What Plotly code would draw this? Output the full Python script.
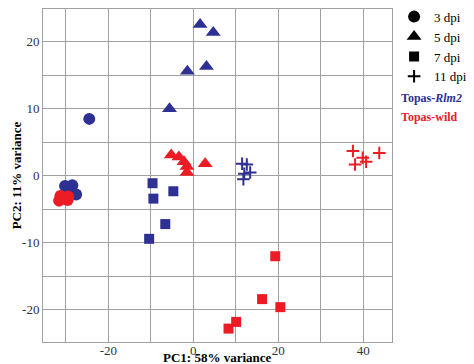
import plotly.graph_objects as go

# ---- data ----
rlm2_3dpi_x = [-24.5, -30.2, -28.5, -29.2, -27.6]
rlm2_3dpi_y = [8.5, -1.5, -1.4, -2.4, -2.8]
wild_3dpi_x = [-31.3, -31.6, -29.6, -29.5]
wild_3dpi_y = [-3.0, -3.7, -3.6, -3.1]

rlm2_5dpi_x = [1.6, 4.7, -1.4, 3.1, -5.6]
rlm2_5dpi_y = [22.6, 21.4, 15.6, 16.3, 10.0]
wild_5dpi_x = [-5.2, -3.4, -2.2, -1.5, -1.5, 2.8]
wild_5dpi_y = [3.1, 2.8, 2.1, 1.4, 0.5, 1.8]

rlm2_7dpi_x = [-9.6, -9.4, -4.7, -6.6, -10.4]
rlm2_7dpi_y = [-1.1, -3.4, -2.3, -7.2, -9.4]
wild_7dpi_x = [19.3, 16.2, 20.5, 8.3, 10.1]
wild_7dpi_y = [-12.0, -18.4, -19.6, -22.8, -21.8]

rlm2_11dpi_x = [11.5, 12.6, 12.0, 13.4, 11.8]
rlm2_11dpi_y = [1.8, 1.7, 0.3, 0.5, -0.5]
wild_11dpi_x = [37.6, 43.8, 39.9, 40.7, 38.1]
wild_11dpi_y = [3.7, 3.4, 2.7, 2.1, 1.7]

legend_labels = ["3 dpi", "5 dpi", "7 dpi", "11 dpi"]
group_labels = ["Topas-<i>Rlm2</i>", "Topas-wild"]
x_tickvals = [-30, -20, -10, 0, 10, 20, 30, 40]
x_ticktext = ["", "-20", "", "0", "", "20", "", "40"]
y_tickvals = [-20, -15, -10, -5, 0, 5, 10, 15, 20]
y_ticktext = ["-20", "", "-10", "", "0", "", "10", "", "20"]
x_title = "PC1: 58% variance"
y_title = "PC2: 11% variance"

BLUE = "#2E3192"
RED = "#ED1C24"
FONT = "Liberation Serif"

symbols = {"3 dpi": ("circle", 12), "5 dpi": ("triangle-up", 13),
           "7 dpi": ("square", 10), "11 dpi": ("cross-thin", 9)}

fig = go.Figure()

def add(xs, ys, label, color):
    sym, size = symbols[label]
    marker = dict(symbol=sym, size=size, color=color)
    if sym == "cross-thin":
        marker["line"] = dict(color=color, width=2)
    fig.add_trace(go.Scatter(x=xs, y=ys, mode="markers", marker=marker,
                             showlegend=False, hoverinfo="skip"))

add(rlm2_3dpi_x, rlm2_3dpi_y, "3 dpi", BLUE)
add(wild_3dpi_x, wild_3dpi_y, "3 dpi", RED)
add(rlm2_5dpi_x, rlm2_5dpi_y, "5 dpi", BLUE)
add(wild_5dpi_x, wild_5dpi_y, "5 dpi", RED)
add(rlm2_7dpi_x, rlm2_7dpi_y, "7 dpi", BLUE)
add(wild_7dpi_x, wild_7dpi_y, "7 dpi", RED)
add(rlm2_11dpi_x, rlm2_11dpi_y, "11 dpi", BLUE)
add(wild_11dpi_x, wild_11dpi_y, "11 dpi", RED)

# legend-only entries (black symbols)
for lab in legend_labels:
    sym, size = symbols[lab]
    marker = dict(symbol=sym, size=size, color="black")
    if sym == "cross-thin":
        marker["line"] = dict(color="black", width=2)
    fig.add_trace(go.Scatter(x=[None], y=[None], mode="markers", marker=marker,
                             name=lab, showlegend=True))

fig.add_annotation(text="<b>" + group_labels[0] + "</b>", xref="paper", yref="paper",
                   x=1.02, y=0.733, xanchor="left", yanchor="middle", showarrow=False,
                   font=dict(family=FONT, size=12, color=BLUE))
fig.add_annotation(text="<b>" + group_labels[1] + "</b>", xref="paper", yref="paper",
                   x=1.02, y=0.676, xanchor="left", yanchor="middle", showarrow=False,
                   font=dict(family=FONT, size=12, color=RED))

fig.add_annotation(text="<b>" + x_title + "</b>", xref="paper", yref="paper",
                   x=0.5, y=-0.047, xanchor="center", yanchor="middle", showarrow=False,
                   font=dict(family=FONT, size=13, color="black"))
fig.add_annotation(text="<b>" + y_title + "</b>", xref="paper", yref="paper",
                   x=-0.075, y=0.5, xanchor="center", yanchor="middle", showarrow=False,
                   textangle=-90, font=dict(family=FONT, size=13, color="black"))

axis_common = dict(showgrid=True, gridcolor="#A0A0A0", gridwidth=1, zeroline=False,
                   showline=True, linecolor="#A0A0A0", linewidth=1, mirror=True,
                   ticks="", tickfont=dict(family=FONT, size=13, color="#333333"),
                   tickmode="array", automargin=False)

fig.update_xaxes(range=[-35.4, 46.8], tickvals=x_tickvals, ticktext=x_ticktext,
                 ticklabelstandoff=-4, **axis_common)
fig.update_yaxes(range=[-24.8, 24.9], tickvals=y_tickvals, ticktext=y_ticktext, **axis_common)

fig.update_layout(
    width=474, height=364,
    margin=dict(l=43, r=82, t=9, b=22, autoexpand=False),
    plot_bgcolor="white", paper_bgcolor="white",
    font=dict(family=FONT, size=13, color="black"),
    legend=dict(x=1.006, y=1.022, xanchor="left", yanchor="top",
                font=dict(family=FONT, size=13, color="black"),
                itemwidth=30, tracegroupgap=0, bgcolor="rgba(0,0,0,0)"),
)

fig.write_html("out.html", config={"displayModeBar": False},
               post_script="document.body.style.margin='0';")
